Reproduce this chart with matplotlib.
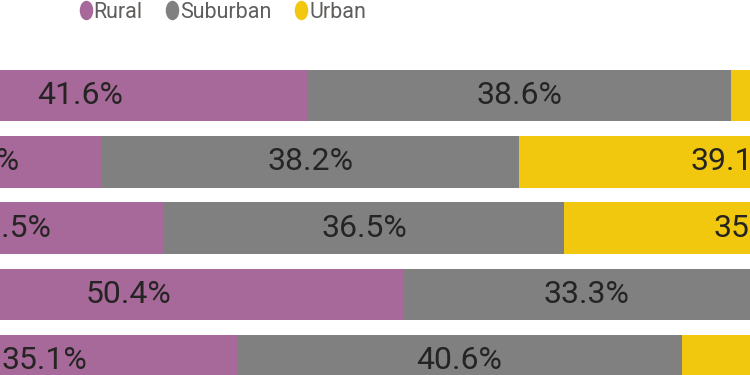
import matplotlib.pyplot as plt
from matplotlib.lines import Line2D
from matplotlib.path import Path
from matplotlib.transforms import Affine2D

# 100% stacked bars, share by area type (row labels are outside the visible crop)
rows = ["Row 1", "Row 2", "Row 3", "Row 4", "Row 5"]
rural = [41.6, 22.7, 28.5, 50.4, 35.1]
suburban = [38.6, 38.2, 36.5, 33.3, 40.6]
urban = [19.8, 39.1, 35.0, 16.3, 24.3]

series_names = ["Rural", "Suburban", "Urban"]
colors = ["#A66999", "#808080", "#F2C80F"]

fig = plt.figure(figsize=(7.5, 3.75), dpi=100)
# the visible picture is a crop of a wider chart, so the axes run past the figure edges
ax = fig.add_axes([-0.1973, -0.0503, 1.4613, 0.884])

left = [0.0] * len(rows)
for name, vals, col in zip(series_names, [rural, suburban, urban], colors):
    bars = ax.barh(range(len(rows)), vals, left=left, height=0.777, color=col, label=name)
    labels = [f"{v:.1f}%" for v in vals]
    ax.bar_label(bars, labels=labels, label_type="center", fontsize=23,
                 family="Roboto", color="#252423")
    left = [l + v for l, v in zip(left, vals)]

ax.set_xlim(0, 100)
ax.set_ylim(4.5, -0.5)
ax.axis("off")

# squashed circle markers, like the stretched legend in the original
oval = Path.unit_circle().transformed(Affine2D().scale(0.67, 1.0))
handles = [Line2D([], [], marker=oval, linestyle="", markersize=13, color=c) for c in colors]
fig.legend(handles, series_names, loc="center left", bbox_to_anchor=(0.089, 0.968),
           ncol=3, frameon=False, borderpad=0, handlelength=0.75, handletextpad=0.0,
           columnspacing=1.0, labelcolor="#605E5C",
           prop={"family": "Roboto", "size": 15.5})

fig.savefig("out.png", dpi=100)
